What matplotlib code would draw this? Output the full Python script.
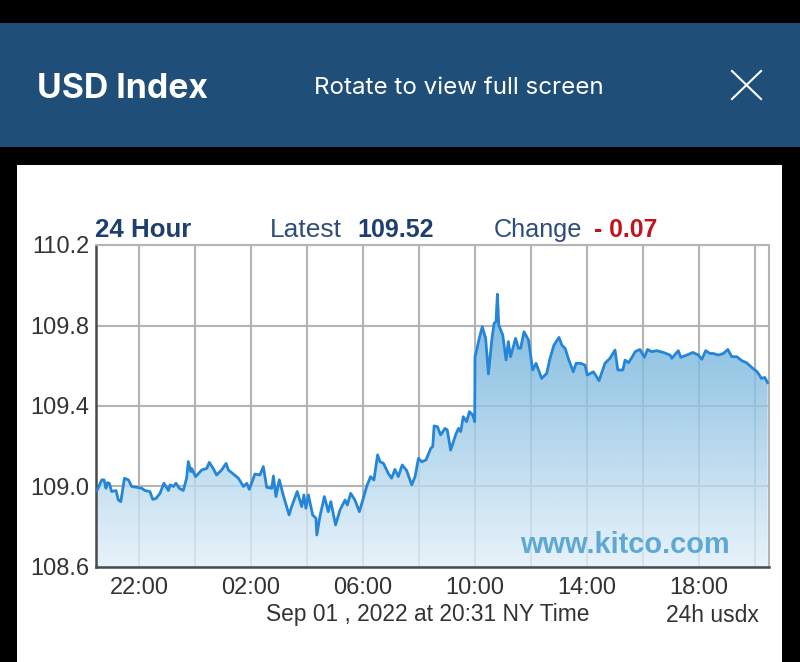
import matplotlib
matplotlib.use('Agg')
import matplotlib.pyplot as plt
import numpy as np
from matplotlib.patches import Rectangle

plt.rcParams['font.family'] = ['Liberation Sans', 'DejaVu Sans']

W, H = 800, 662

# hours after 22:00 on the chart's time axis
hours = [-1.54, -1.49, -1.33, -1.25, -1.18, -1.13, -1.06, -0.98, -0.82, -0.74, -0.65, -0.52, -0.38, -0.26, -0.08,
         0.10, 0.21, 0.39, 0.49, 0.61, 0.75, 0.89, 1.05, 1.11, 1.23, 1.32, 1.44, 1.58, 1.70, 1.76, 1.85, 1.88,
         2.02, 2.24, 2.42, 2.51, 2.65, 2.77, 2.95, 3.11, 3.19, 3.37, 3.55, 3.73, 3.85, 3.94, 4.14, 4.32, 4.44,
         4.56, 4.74, 4.80, 4.89, 5.01, 5.15, 5.36, 5.45, 5.65, 5.81, 5.89, 5.96, 6.05, 6.20, 6.32, 6.35, 6.46,
         6.62, 6.76, 6.85, 7.02, 7.18, 7.36, 7.44, 7.56, 7.71, 7.87, 8.01, 8.13, 8.27, 8.39, 8.52, 8.61, 8.73,
         8.90, 9.02, 9.14, 9.26, 9.40, 9.56, 9.74, 9.86, 9.98, 10.10, 10.25, 10.42, 10.49, 10.54, 10.66, 10.77,
         10.93, 11.01, 11.13, 11.32, 11.41, 11.49, 11.58, 11.70, 11.80, 11.92, 11.99, 12.00, 12.06, 12.15, 12.26,
         12.38, 12.48, 12.60, 12.68, 12.75, 12.80, 12.85, 12.99, 13.11, 13.19, 13.27, 13.45, 13.55, 13.63, 13.75,
         13.91, 14.06, 14.18, 14.38, 14.56, 14.68, 14.82, 15.00, 15.10, 15.22, 15.33, 15.51, 15.61, 15.78, 15.93,
         16.01, 16.23, 16.43, 16.64, 16.82, 17.00, 17.10, 17.28, 17.36, 17.48, 17.62, 17.72, 17.89, 18.05, 18.16,
         18.31, 18.49, 18.73, 18.97, 19.03, 19.26, 19.35, 19.56, 19.78, 19.98, 20.10, 20.24, 20.39, 20.51, 20.69,
         20.87, 21.03, 21.17, 21.35, 21.53, 21.70, 21.88, 22.08, 22.23, 22.35, 22.45]
usd_index = [108.98, 108.983, 109.033, 109.033, 108.991, 109.019, 109.016, 108.975, 108.98, 108.933, 108.925, 109.041,
             109.033, 109.0, 108.996, 108.991, 108.98, 108.975, 108.936, 108.941, 108.966, 109.016, 108.98, 109.008,
             109.0, 109.016, 108.991, 108.98, 109.041, 109.124, 109.074, 109.09, 109.049, 109.082, 109.09, 109.12,
             109.09, 109.057, 109.082, 109.115, 109.082, 109.062, 109.041, 109.0, 109.016, 108.986, 109.062, 109.057,
             109.099, 108.996, 108.991, 109.052, 108.95, 109.033, 108.958, 108.859, 108.9, 108.975, 108.9, 108.958,
             108.892, 108.958, 108.859, 108.842, 108.759, 108.85, 108.95, 108.875, 108.925, 108.809, 108.884, 108.933,
             108.908, 108.966, 108.933, 108.875, 108.941, 109.0, 109.049, 109.032, 109.157, 109.123, 109.115, 109.066,
             109.041, 109.085, 109.049, 109.107, 109.079, 109.008, 109.049, 109.14, 109.123, 109.132, 109.19, 109.198,
             109.301, 109.297, 109.256, 109.289, 109.281, 109.181, 109.261, 109.289, 109.273, 109.347, 109.322, 109.372,
             109.355, 109.322, 109.645, 109.678, 109.736, 109.794, 109.736, 109.559, 109.728, 109.811, 109.819, 109.956,
             109.802, 109.753, 109.629, 109.72, 109.645, 109.736, 109.687, 109.687, 109.769, 109.728, 109.579, 109.612,
             109.537, 109.562, 109.637, 109.703, 109.741, 109.703, 109.686, 109.637, 109.57, 109.612, 109.612, 109.603,
             109.554, 109.57, 109.526, 109.612, 109.637, 109.678, 109.579, 109.579, 109.628, 109.615, 109.645, 109.67,
             109.681, 109.642, 109.681, 109.67, 109.675, 109.666, 109.653, 109.637, 109.675, 109.642, 109.653, 109.666,
             109.653, 109.632, 109.675, 109.661, 109.661, 109.653, 109.661, 109.681, 109.645, 109.645, 109.625, 109.615,
             109.592, 109.57, 109.537, 109.542, 109.516]

y_ticks = [108.6, 109.0, 109.4, 109.8, 110.2]
x_tick_hours = [0, 4, 8, 12, 16, 20]
x_tick_labels = ['22:00', '02:00', '06:00', '10:00', '14:00', '18:00']
x_grid_hours = [2, 6, 10, 14, 18, 22]


def px(x, y):
    # pixel position in the screenshot -> figure fraction
    return x / W, 1 - y / H


fig = plt.figure(figsize=(W / 100, H / 100), dpi=100, facecolor='black')

# App chrome, kept behind the chart axes
fig.add_artist(Rectangle(px(0, 147), 1, 124 / H, transform=fig.transFigure, color='#1f4e79', lw=0, zorder=-2))
fig.add_artist(Rectangle(px(17, H), 765 / W, (H - 165) / H, transform=fig.transFigure, color='white', lw=0, zorder=-2))

x, y = px(37, 89)
fig.text(x, y, 'USD Index', color='white', fontsize=24.3, fontweight='bold', family='Inter', va='center')
x, y = px(314, 88)
fig.text(x, y, 'Rotate to view full screen', color='white', fontsize=17.4, family='Inter', va='center')
for x0, y0, x1, y1 in [(732, 71, 761, 99), (732, 99, 761, 71)]:
    a, b = px(x0, y0), px(x1, y1)
    fig.add_artist(plt.Line2D([a[0], b[0]], [a[1], b[1]], color='white', lw=1.5))

# Chart
left, top, right, bottom = 96, 245, 769, 567
ax = fig.add_axes([left / W, 1 - bottom / H, (right - left) / W, (bottom - top) / H])
ax.set_facecolor('white')

ax.set_xticks(x_tick_hours)
ax.set_xticklabels(x_tick_labels)
ax.set_xticks(x_grid_hours, minor=True)
ax.set_yticks(y_ticks)
ax.set_yticklabels(['%.1f' % v for v in y_ticks])
ax.grid(True, which='both', color='#b4b4b4', lw=1.5, zorder=1)
ax.set_axisbelow(True)
ax.tick_params(which='both', length=0)
ax.tick_params(axis='x', labelsize=17, labelcolor='#333333', pad=7)
ax.tick_params(axis='y', labelsize=17, labelcolor='#333333', pad=5)

for side in ['top', 'right']:
    ax.spines[side].set_color('#b4b4b4')
    ax.spines[side].set_linewidth(1.5)
for side in ['left', 'bottom']:
    ax.spines[side].set_color('#4a4a4a')
    ax.spines[side].set_linewidth(1.8)

# gradient area under the line, mostly opaque so the grid only shows faintly through it
shape = ax.fill_between(hours, usd_index, 108.6, color='none', lw=0)
grad = np.zeros((256, 1, 4))
grad[..., 0] = np.linspace(92, 226, 256)[:, None] / 255
grad[..., 1] = np.linspace(168, 240, 256)[:, None] / 255
grad[..., 2] = np.linspace(214, 249, 256)[:, None] / 255
grad[..., 3] = 0.8
img = ax.imshow(grad, extent=[-1.536, 22.5, 108.6, 109.96], aspect='auto', zorder=2, origin='upper')
img.set_clip_path(shape.get_paths()[0], transform=ax.transData)

ax.plot(hours, usd_index, color='#2585d8', lw=2, zorder=3, solid_joinstyle='round')

ax.set_xlim(-1.536, 22.5)
ax.set_ylim(108.6, 110.2)


def label(x, y, text, **kw):
    fx, fy = px(x, y)
    fig.text(fx, fy, text, va='center', **kw)


navy = '#1c3f70'
label(95, 230, '24 Hour', color=navy, fontsize=18.6, fontweight='bold')
label(270, 230, 'Latest', color='#2f4d7c', fontsize=19)
label(357, 230, '109.52', color=navy, fontsize=18, fontweight='bold')
label(494, 230, 'Change', color='#2f4d7c', fontsize=18.2)
label(594, 230, '- 0.07', color='#c4121c', fontsize=17.8, fontweight='bold')
label(520, 545, 'www.kitco.com', color='#5ea9d4', fontsize=20.9, fontweight='bold')
label(266, 615, 'Sep 01 , 2022 at 20:31 NY Time', color='#333333', fontsize=16.4)
label(666, 615, '24h usdx', color='#333333', fontsize=16.5)

fig.savefig('out.png', dpi=100, facecolor=fig.get_facecolor())
